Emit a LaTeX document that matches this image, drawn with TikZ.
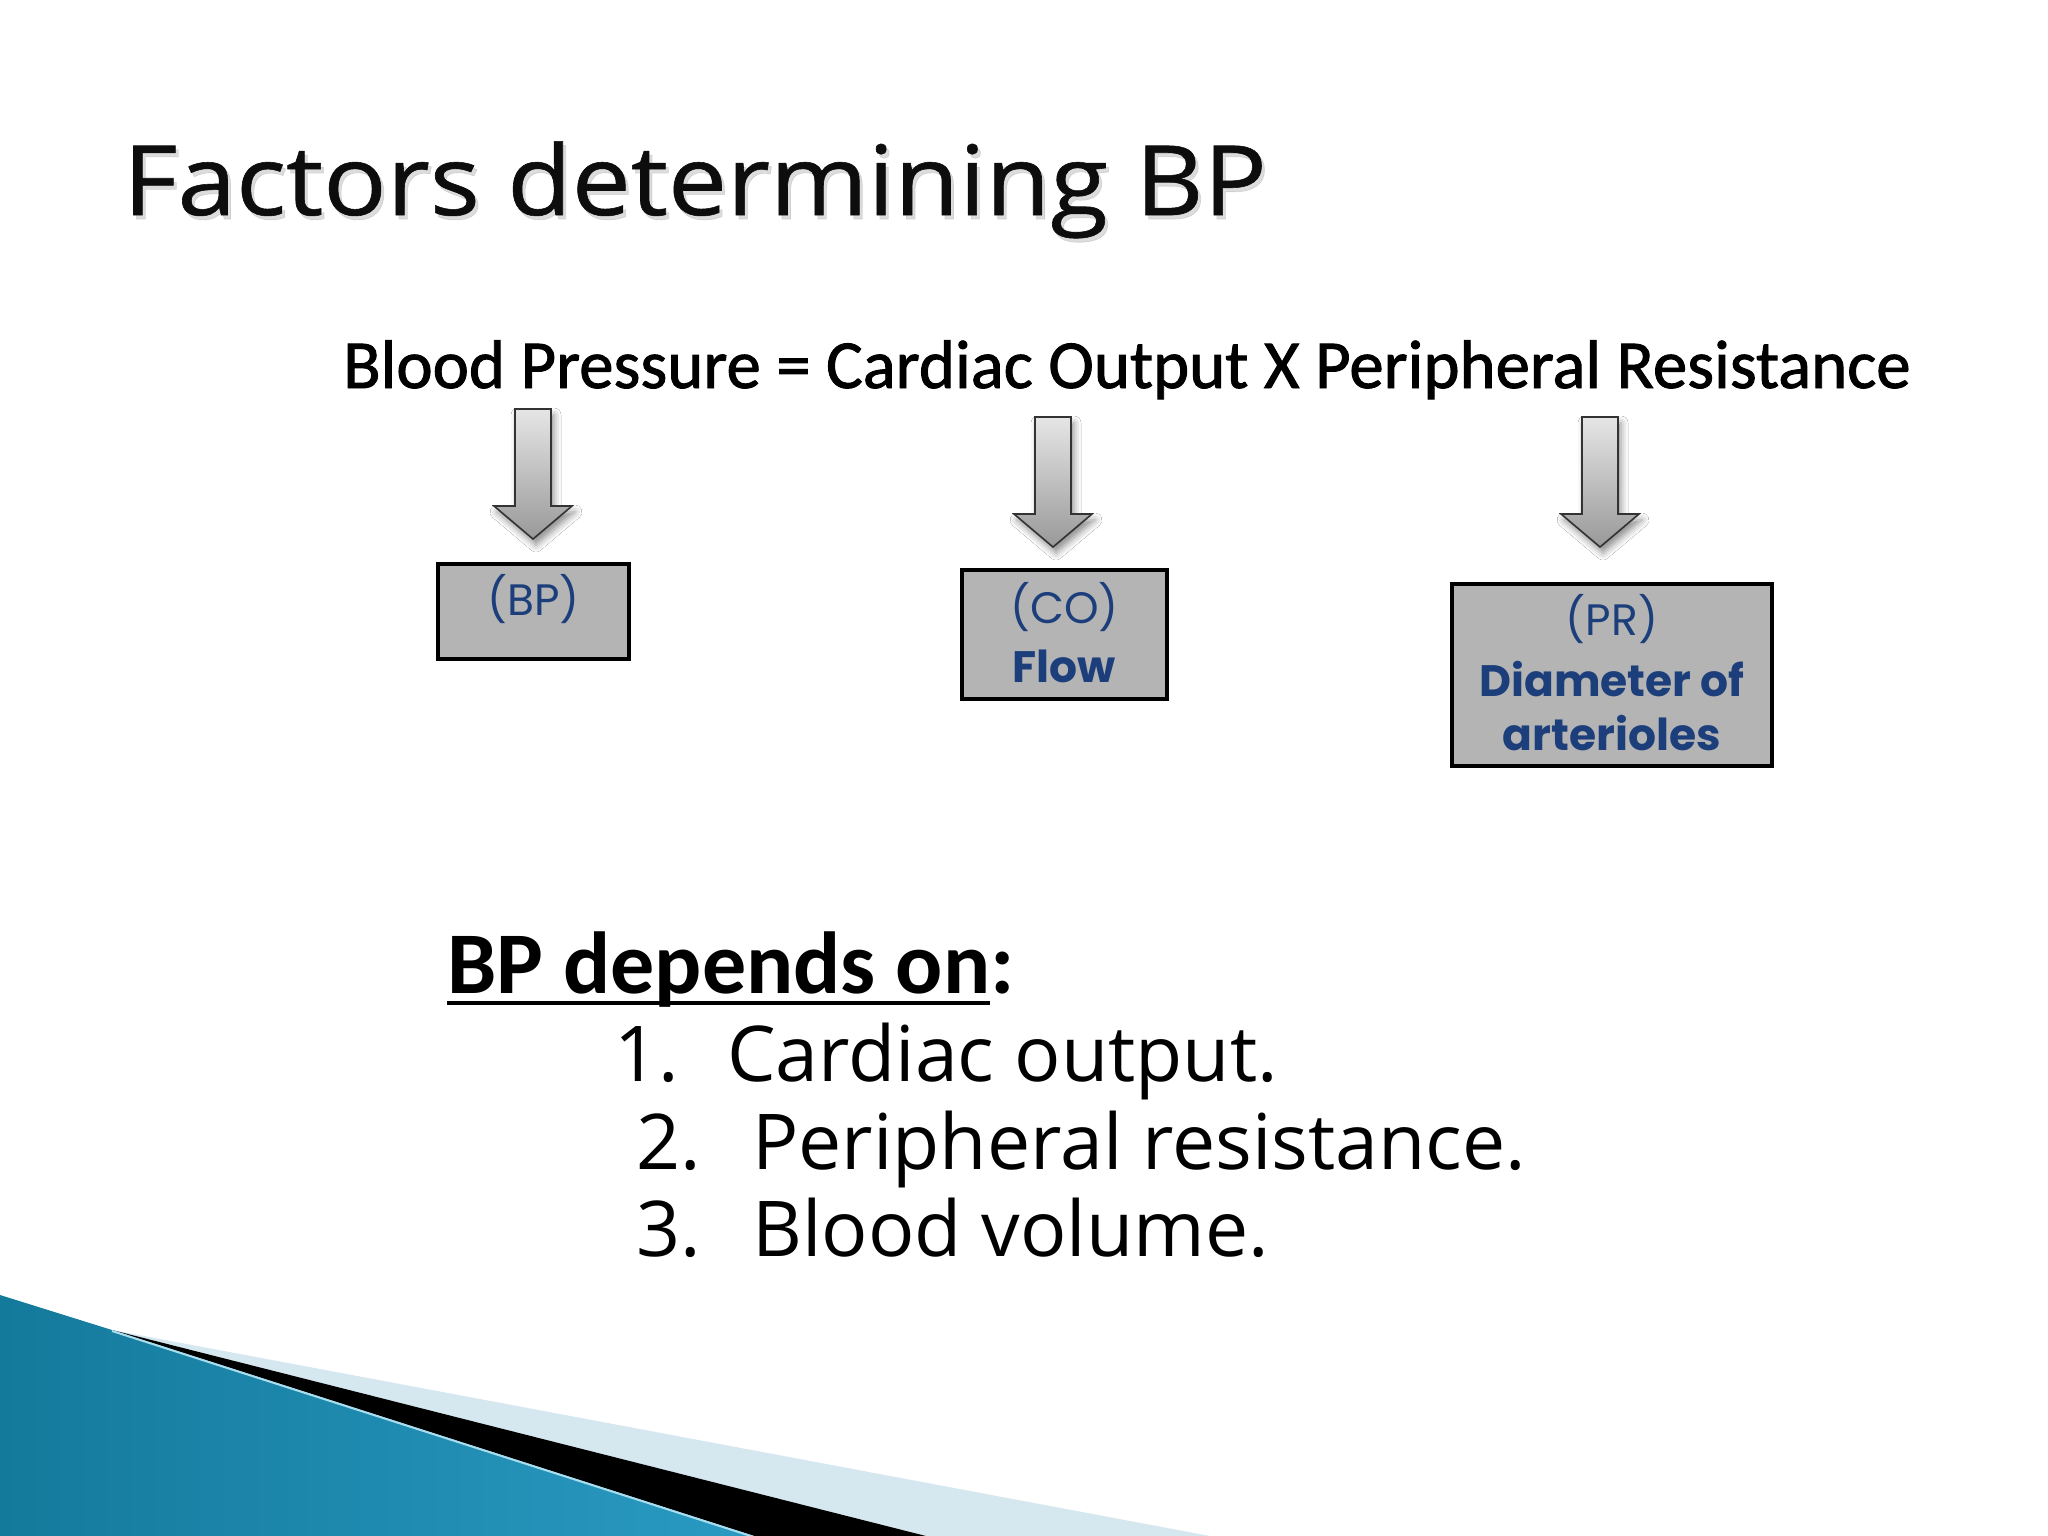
\documentclass[tikz,border=0pt]{standalone}
\usepackage{fontspec}
\usetikzlibrary{shadows.blur}
\newfontfamily\titlefont[FakeBold=0.6]{Open Sans}
\newfontfamily\listfont{Open Sans}
\newfontfamily\calfont{Carlito}
\newfontfamily\calfontfb[FakeBold=1.3]{Carlito}
\newfontfamily\boxfont{Poppins}
\definecolor{boxblue}{HTML}{1C3F7C}
\definecolor{boxgray}{HTML}{B4B4B4}
\definecolor{tealdark}{HTML}{147A9C}
\definecolor{teallight}{HTML}{55BADD}
\definecolor{tealmid}{HTML}{2A9AC2}
\definecolor{paleblue}{HTML}{D5E7EF}
\begin{document}
\begin{tikzpicture}[x=1pt,y=-1pt,
  greybox/.style={draw=black, line width=4pt, fill=boxgray, inner sep=0pt},
  boxtext/.style={anchor=base, inner sep=0pt, text=boxblue, font=\boxfont\fontsize{44}{44}\selectfont},
  boxbold/.style={boxtext, font=\boxfont\bfseries\fontsize{44}{44}\selectfont},
  listtext/.style={anchor=base west, inner sep=0pt, font=\listfont\fontsize{77}{77}\selectfont},
  blockarrow/.style={draw=black!80, line width=1.6pt, top color=black!10, bottom color=black!40,
    blur shadow={shadow xshift=3pt, shadow yshift=-6pt, shadow blur radius=7pt, shadow opacity=45}},
  downarr/.pic={\path[blockarrow] (-18,0) -- (-18,97) -- (-39,97) -- (0,130) -- (39,97) -- (18,97) -- (18,0) -- cycle;}
]
\useasboundingbox (0,0) rectangle (2048,1536);
\fill[white] (0,0) rectangle (2048,1536);

% bottom-left decoration
\fill[paleblue] (112,1330) -- (1210,1536) -- (926,1536) -- cycle;
\fill[black] (112,1330) -- (926,1536) -- (754,1536) -- cycle;
\shade[left color=tealdark, middle color=teallight, right color=tealmid]
  (0,1295) -- (112,1330) -- (754,1536) -- (0,1536) -- cycle;
\draw[teallight!50!white, line width=2pt] (112,1331) -- (754,1537);

% title
\node[anchor=base west, inner sep=0pt, text=black!30, opacity=0.45] at (126,219)
  {\titlefont\fontsize{97}{97}\selectfont\scalebox{1.085}[1]{Factors determining BP}};
\node[anchor=base west, inner sep=0pt, text=black!95] (title) at (123,215)
  {\titlefont\fontsize{97}{97}\selectfont\scalebox{1.085}[1]{Factors determining BP}};

% formula
\node[anchor=base west, inner sep=0pt] (formula) at (343,388)
  {\calfontfb\fontsize{68.8}{68.8}\selectfont Blood Pressure = Cardiac Output X Peripheral Resistance};

% arrows
\pic (arrbp) at (533,409) {downarr};
\pic (arrco) at (1053,417) {downarr};
\pic (arrpr) at (1600,417) {downarr};

% boxes
\node[greybox, minimum width=191pt, minimum height=95pt] (bpbox) at (533.5,611.5) {};
\node[greybox, minimum width=205pt, minimum height=129pt] (cobox) at (1064.5,634.5) {};
\node[greybox, minimum width=320pt, minimum height=182pt] (prbox) at (1612,675) {};

\node[boxtext] (bpt) at (533.5,615) {(BP)};
\node[boxtext] (cot) at (1064.5,623) {(CO)};
\node[boxbold] (flowt) at (1064.5,682) {Flow};
\node[boxtext] (prt) at (1612,635) {(PR)};
\node[boxbold] (diamt) at (1612,696) {Diameter of};
\node[boxbold] (artt) at (1612,750) {arterioles};

% BP depends on
\node[anchor=base west, inner sep=0pt] (dep) at (447,993)
  {\calfont\bfseries\fontsize{88}{88}\selectfont BP depends on};
\node[anchor=base west, inner sep=0pt] (colon) at (dep.base east)
  {\calfont\bfseries\fontsize{88}{88}\selectfont :};
\draw[line width=4pt] ([yshift=-10pt]dep.base west) -- ([yshift=-10pt]dep.base east);

% list
\node[listtext] (n1) at (614,1081) {1.};
\node[listtext] (l1) at (727,1081) {Cardiac output.};
\node[listtext] (n2) at (636,1169) {2.};
\node[listtext] (l2) at (752,1169) {Peripheral resistance.};
\node[listtext] (n3) at (636,1256) {3.};
\node[listtext] (l3) at (752,1256) {Blood volume.};
\end{tikzpicture}
\end{document}
